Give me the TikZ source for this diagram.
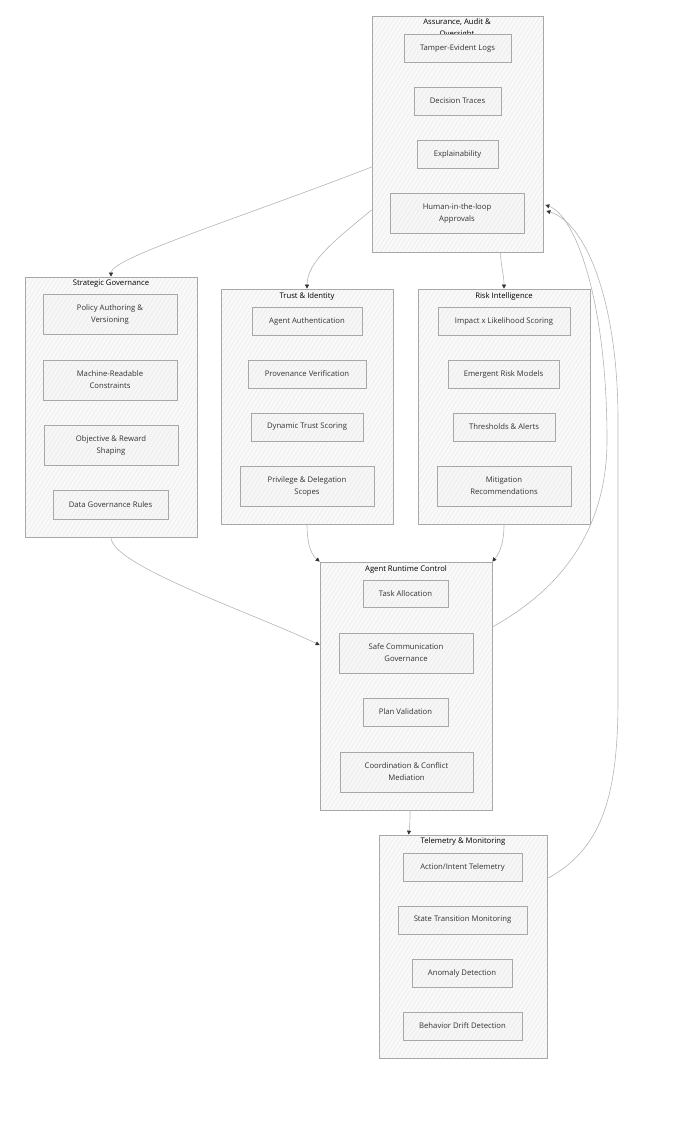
\documentclass[tikz,border=0pt]{standalone}
\usepackage{fontspec}
\setmainfont{Open Sans}
\usetikzlibrary{calc,arrows.meta,patterns.meta}
\definecolor{edgec}{HTML}{B4B4B4}
\definecolor{boxc}{HTML}{A8A8A8}
\definecolor{txt}{HTML}{333333}
\begin{document}
\begin{tikzpicture}[x=1pt,y=-1pt,
  hatch/.style={preaction={fill=#1}, preaction={pattern={Lines[angle=58,distance=3.5pt,line width=0.3pt]},pattern color=gray!20}},
  cluster/.style={draw=boxc, line width=0.7pt, hatch=gray!5, inner sep=0pt},
  item/.style={draw=boxc, line width=0.6pt, hatch=gray!7, inner sep=2pt, align=center, text=txt, font=\fontsize{7.7}{12}\selectfont},
  ttl/.style={font=\fontsize{7.7}{12}\selectfont, text=black, align=center, inner sep=0pt},
  conn/.style={draw=edgec, line width=0.6pt, -{Triangle[length=4pt,width=4pt,fill=txt,color=txt]}}]
\useasboundingbox (0,0) rectangle (675,1125);

% clusters
\node[cluster, minimum width=171, minimum height=236] (assur) at (457.5,134) {};
\node[cluster, minimum width=172, minimum height=260] (strat) at (111,407) {};
\node[cluster, minimum width=172, minimum height=235] (trust) at (307,406.5) {};
\node[cluster, minimum width=172, minimum height=235] (risk) at (504,406.5) {};
\node[cluster, minimum width=172, minimum height=248] (runtime) at (406,686) {};
\node[cluster, minimum width=168, minimum height=223] (tele) at (463,946.5) {};

% titles
\node[ttl] (assurT) at (457,28) {Assurance, Audit \&\\Oversight};
\node[ttl] (stratT) at (111,283.5) {Strategic Governance};
\node[ttl] (trustT) at (307,296) {Trust \& Identity};
\node[ttl] (riskT) at (504,296) {Risk Intelligence};
\node[ttl] (runtimeT) at (406,569) {Agent Runtime Control};
\node[ttl] (teleT) at (463,841.5) {Telemetry \& Monitoring};

% assurance
\node[item, minimum width=107, minimum height=28] (tel) at (457.5,48) {Tamper-Evident Logs};
\node[item, minimum width=87, minimum height=28] (dt) at (457.5,101) {Decision Traces};
\node[item, minimum width=81, minimum height=28] (ex) at (457.5,154) {Explainability};
\node[item, minimum width=134, minimum height=40] (hitl) at (457,213) {Human-in-the-loop\\Approvals};

% strategic
\node[item, minimum width=134, minimum height=40] (pa) at (110,314) {Policy Authoring \&\\Versioning};
\node[item, minimum width=134, minimum height=40] (mr) at (110,380) {Machine-Readable\\Constraints};
\node[item, minimum width=134, minimum height=40] (orw) at (111,445) {Objective \& Reward\\Shaping};
\node[item, minimum width=115, minimum height=29] (dg) at (110.5,504.5) {Data Governance Rules};

% trust
\node[item, minimum width=110, minimum height=28] (aa) at (307,321) {Agent Authentication};
\node[item, minimum width=118, minimum height=28] (pv) at (307,374) {Provenance Verification};
\node[item, minimum width=112, minimum height=28] (dts) at (307,427) {Dynamic Trust Scoring};
\node[item, minimum width=134, minimum height=40] (pd) at (307,486) {Privilege \& Delegation\\Scopes};

% risk
\node[item, minimum width=132, minimum height=28] (il) at (504,321) {Impact x Likelihood Scoring};
\node[item, minimum width=111, minimum height=28] (erm) at (503.5,374) {Emergent Risk Models};
\node[item, minimum width=102, minimum height=28] (ta) at (504,427) {Thresholds \& Alerts};
\node[item, minimum width=134, minimum height=40] (mit) at (504,486) {Mitigation\\Recommendations};

% runtime
\node[item, minimum width=85, minimum height=27] (task) at (405.5,593.5) {Task Allocation};
\node[item, minimum width=134, minimum height=40] (sc) at (406,653) {Safe Communication\\Governance};
\node[item, minimum width=85, minimum height=28] (plan) at (405.5,712) {Plan Validation};
\node[item, minimum width=133, minimum height=40] (coord) at (406.5,772) {Coordination \& Conflict\\Mediation};

% telemetry
\node[item, minimum width=119, minimum height=28] (ait) at (462.5,867) {Action/Intent Telemetry};
\node[item, minimum width=129, minimum height=28] (stm) at (462.5,920) {State Transition Monitoring};
\node[item, minimum width=100, minimum height=28] (ad) at (462,973) {Anomaly Detection};
\node[item, minimum width=119, minimum height=28] (bdd) at (462.5,1026) {Behavior Drift Detection};

% connectors
\draw[conn] ($(assur.west)+(0,33)$) .. controls (240,218) and (111,258) .. (strat.north);
\draw[conn] ($(assur.west)+(0,76)$) .. controls (335,240) and (307,262) .. (trust.north);
\draw[conn] ($(assur.south)+(43,0)$) .. controls (501,268) and (504,274) .. (risk.north);
\draw[conn] (strat.south) .. controls (111,565) and (250,612) .. ($(runtime.west)+(0,-41)$);
\draw[conn] (trust.south) .. controls (307,548) and (313,556) .. (runtime.north west);
\draw[conn] (risk.south) .. controls (504,548) and (497,556) .. (runtime.north east);
\draw[conn] ($(runtime.south)+(4,0)$) .. controls (410,822) .. ($(tele.north west)+(30,0)$);
\draw[conn] ($(runtime.east)+(0,-59)$) .. controls (550,595) and (607,540) .. (607,440) .. controls (607,300) and (575,215) .. ($(assur.east)+(2,71)$);
\draw[conn] ($(tele.east)+(0,-68)$) .. controls (600,850) and (618,800) .. (618,700) -- (618,420) .. controls (618,300) and (585,222) .. ($(assur.east)+(3,77)$);
\end{tikzpicture}
\end{document}
